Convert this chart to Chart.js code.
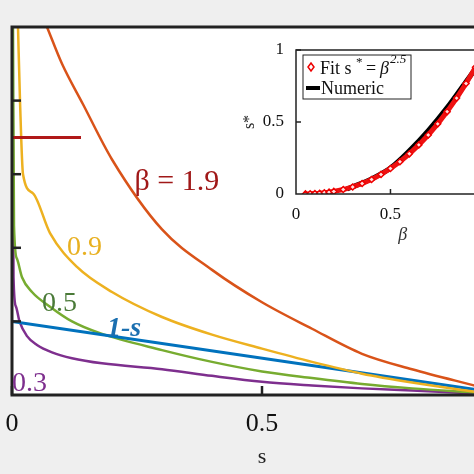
<!DOCTYPE html>
<html><head><meta charset="utf-8">
<script src="https://cdn.jsdelivr.net/npm/chart.js@4"></script>
<style>
html,body{margin:0;padding:0;width:474px;height:474px;overflow:hidden;background:#efefef;}
#mainWrap{position:absolute;left:-40px;top:0;width:552px;height:474px;}
#insetWrap{position:absolute;left:240px;top:35px;width:275px;height:215px;background:#fff;}
</style></head><body>
<div id="mainWrap"><canvas id="main"></canvas></div>
<div id="insetWrap"><canvas id="inset"></canvas></div>
<script>
// main plot data (s, value)
const orangeS=[0.07,0.1,0.142,0.2,0.3,0.4,0.5,0.6,0.7,0.8,0.93];
const orangeY=[5.0,4.5,3.95,3.2,2.25,1.7,1.26,0.9,0.56,0.35,0.12];
const yellowS=[0.012,0.016,0.022,0.042,0.076,0.13,0.2,0.3,0.4,0.5,0.6,0.7,0.8,0.93];
const yellowY=[5.0,4.0,3.0,2.74,2.2,1.74,1.4,1.06,0.82,0.63,0.45,0.29,0.17,0.04];
const greenS=[0.002,0.004,0.01,0.02,0.04,0.076,0.12,0.176,0.3,0.4,0.5,0.6,0.7,0.8,0.93];
const greenY=[5.0,2.3,1.85,1.6,1.4,1.2,1.0,0.84,0.61,0.45,0.32,0.23,0.15,0.09,0.03];
const purpleS=[0.001,0.003,0.008,0.015,0.03,0.05,0.08,0.12,0.18,0.3,0.4,0.5,0.6,0.7,0.8,0.93];
const purpleY=[5.0,1.6,1.2,1.0,0.8,0.68,0.58,0.5,0.43,0.35,0.26,0.18,0.13,0.09,0.06,0.02];
const blueS=[0,0.93];
const blueY=[1,0.07];
const markS=[-0.05,0.138];
const markY=[3.5,3.5];
const xTicks=[0,0.5];
const yTicks=[1,2,3,4];
// inset data
const fitB=[0.05,0.075,0.1,0.125,0.15,0.175,0.2,0.25,0.3,0.35,0.4,0.45,0.5,0.55,0.6,0.65,0.7,0.75,0.8,0.85,0.9,0.95];
const fitV=[0.0006,0.0015,0.0032,0.0055,0.0087,0.0128,0.018,0.031,0.049,0.073,0.101,0.136,0.177,0.224,0.279,0.341,0.41,0.487,0.572,0.666,0.768,0.88];
const numB=[0.27,0.3,0.4,0.5,0.6,0.7,0.8,0.9,0.95];
const numV=[0.035,0.05,0.105,0.18,0.3,0.44,0.6,0.78,0.87];

const pts=(xs,ys)=>xs.map((x,i)=>({x:x,y:ys[i]}));
const serif='"Liberation Serif", "DejaVu Serif", serif';

const mainPlugin={id:'mainDeco',
 beforeDraw(c){const a=c.chartArea,x=c.ctx;x.save();x.fillStyle='#fff';x.fillRect(a.left,a.top,a.right-a.left,a.bottom-a.top);x.restore();},
 afterDraw(c){const a=c.chartArea,x=c.ctx,ys=c.scales.y,xs=c.scales.x;x.save();
  x.strokeStyle='#222';x.lineWidth=3;x.strokeRect(a.left,a.top,a.right-a.left,a.bottom-a.top);
  x.lineWidth=2.5;
  yTicks.forEach(v=>{const p=ys.getPixelForValue(v);x.beginPath();x.moveTo(a.left,p);x.lineTo(a.left+9,p);x.stroke();});
  xTicks.forEach(v=>{const p=xs.getPixelForValue(v);x.beginPath();x.moveTo(p,a.bottom);x.lineTo(p,a.bottom-9);x.stroke();});
  x.textBaseline='alphabetic';
  const t=(s,sv,yv,col,f)=>{x.fillStyle=col;x.font=f;x.fillText(s,xs.getPixelForValue(sv),ys.getPixelForValue(yv));};
  t('β = 1.9',0.245,2.78,'#a01818','30px '+serif);
  t('0.9',0.11,1.9,'#e8b020','28px '+serif);
  t('0.5',0.06,1.14,'#4a7a38','28px '+serif);
  t('1-s',0.19,0.8,'#1a6fb0','italic bold 28px '+serif);
  t('0.3',0.0,0.05,'#7e2f8e','28px '+serif);
  x.restore();}};

const ln=(xs,ys,col,w)=>({data:pts(xs,ys),borderColor:col,borderWidth:w,showLine:true,pointRadius:0,cubicInterpolationMode:'monotone'});
new Chart(document.getElementById('main'),{type:'scatter',
 data:{datasets:[
  {data:pts(markS,markY),borderColor:'#b01818',borderWidth:3,showLine:true,pointRadius:0},
  ln(orangeS,orangeY,'#d95319',2.5),
  ln(yellowS,yellowY,'#edb120',2.5),
  ln(blueS,blueY,'#0072bd',3),
  ln(greenS,greenY,'#77ac30',2.5),
  ln(purpleS,purpleY,'#7e2f8e',2.5)
 ]},
 options:{responsive:true,maintainAspectRatio:false,animation:false,layout:{padding:{top:27}},
  plugins:{legend:{display:false},tooltip:{enabled:false}},
  scales:{
   x:{type:'linear',min:0,max:1,afterFit(s){s.height=79;},
      afterBuildTicks(s){s.ticks=xTicks.map(v=>({value:v}));},
      grid:{display:false},border:{display:false},
      ticks:{color:'#111',font:{family:serif,size:26},padding:6,callback:v=>String(v)},
      title:{display:true,text:'s',color:'#222',font:{family:serif,size:22},padding:{top:4}}},
   y:{type:'linear',min:0,max:5,afterFit(s){s.width=52;},
      afterBuildTicks(s){s.ticks=yTicks.map(v=>({value:v}));},
      grid:{display:false},border:{display:false},
      ticks:{color:'#111',font:{family:serif,size:26},padding:4}}
  }},
 plugins:[mainPlugin]});

const insetPlugin={id:'insetDeco',
 afterDraw(c){const a=c.chartArea,x=c.ctx,xs=c.scales.x,ys=c.scales.y;x.save();
  x.strokeStyle='#222';x.lineWidth=1.5;x.strokeRect(a.left,a.top,a.right-a.left,a.bottom-a.top);
  [0.5,1].forEach(v=>{const p=xs.getPixelForValue(v);x.beginPath();x.moveTo(p,a.bottom);x.lineTo(p,a.bottom-5);x.stroke();});
  [0.5,1].forEach(v=>{const p=ys.getPixelForValue(v);x.beginPath();x.moveTo(a.left,p);x.lineTo(a.left+5,p);x.stroke();});
  const lx=a.left+7,ly=a.top+5,w=108,h=44;
  x.fillStyle='#fff';x.fillRect(lx,ly,w,h);x.lineWidth=1;x.strokeRect(lx,ly,w,h);
  x.strokeStyle='#e00';x.lineWidth=1.5;x.beginPath();x.moveTo(lx+8,ly+8);x.lineTo(lx+11,ly+12);x.lineTo(lx+8,ly+16);x.lineTo(lx+5,ly+12);x.closePath();x.stroke();
  x.fillStyle='#111';x.font='18px '+serif;x.textBaseline='alphabetic';
  x.fillText('Fit s',lx+17,ly+19);
  x.font='13px '+serif;x.fillText('*',lx+53,ly+11);
  x.font='18px '+serif;x.fillText('=',lx+63,ly+19);
  x.font='italic 18px '+serif;x.fillText('β',lx+77,ly+19);
  x.font='italic 13px '+serif;x.fillText('2.5',lx+87,ly+8);
  x.strokeStyle='#000';x.lineWidth=4;x.beginPath();x.moveTo(lx+3,ly+33);x.lineTo(lx+17,ly+33);x.stroke();
  x.font='18px '+serif;x.fillText('Numeric',lx+18,ly+39);
  x.restore();}};

new Chart(document.getElementById('inset'),{type:'scatter',
 data:{datasets:[
  {data:pts(fitB,fitV),borderColor:'#ee1111',backgroundColor:'#ee1111',borderWidth:5,showLine:true,pointStyle:'rectRot',pointRadius:3,pointBorderWidth:1.5,pointBackgroundColor:'#ffdddd',pointBorderColor:'#e00'},
  {data:pts(numB,numV),borderColor:'#000',borderWidth:5,showLine:true,pointRadius:0,cubicInterpolationMode:'monotone'}
 ]},
 options:{responsive:true,maintainAspectRatio:false,animation:false,layout:{padding:{top:15}},
  plugins:{legend:{display:false},tooltip:{enabled:false}},
  scales:{
   x:{type:'linear',min:0,max:1.13,afterFit(s){s.height=56;},
      afterBuildTicks(s){s.ticks=[0,0.5,1].map(v=>({value:v}));},
      grid:{display:false},border:{display:false},
      ticks:{color:'#111',font:{family:serif,size:17},padding:2,maxRotation:0,callback:v=>String(v)},
      title:{display:true,text:'β',color:'#333',font:{family:serif,size:18,style:'italic'},padding:{top:0}}},
   y:{type:'linear',min:0,max:1,afterFit(s){s.width=56;},
      afterBuildTicks(s){s.ticks=[0,0.5,1].map(v=>({value:v}));},
      grid:{display:false},border:{display:false},
      ticks:{color:'#111',font:{family:serif,size:17},padding:4,callback:v=>String(v)},
      title:{display:true,text:'s*',color:'#222',font:{family:serif,size:16},padding:{top:0,bottom:0}}}
  }},
 plugins:[insetPlugin]});
</script></body></html>
